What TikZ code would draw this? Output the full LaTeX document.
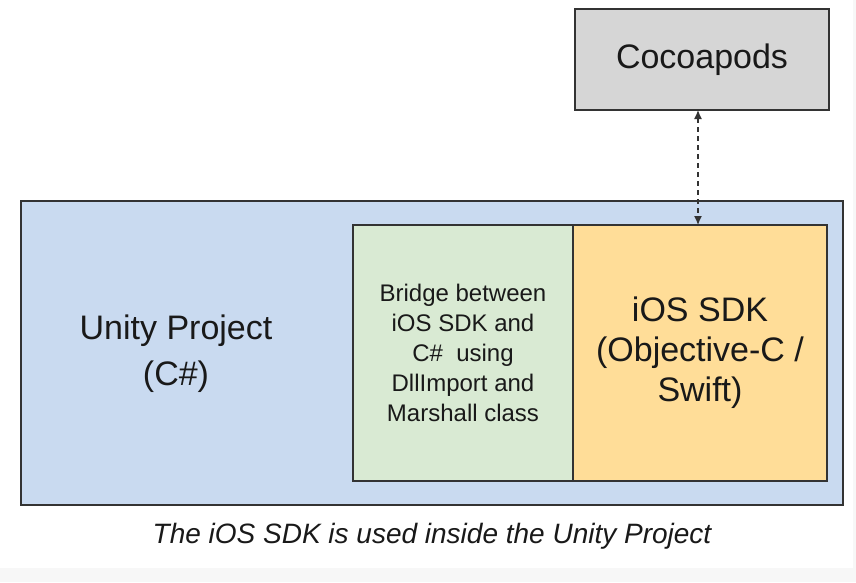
\documentclass[tikz,border=0pt]{standalone}
\usepackage{fontspec}
\setmainfont{Liberation Sans}
\usetikzlibrary{arrows.meta}
\definecolor{cblue}{HTML}{C9DAF0}
\definecolor{cgreen}{HTML}{D9EAD3}
\definecolor{corange}{HTML}{FFDD98}
\definecolor{cgray}{HTML}{D6D6D6}
\begin{document}
\begin{tikzpicture}[x=1pt,y=-1pt,
 box/.style={draw=black!80,line width=1.5pt,inner sep=0pt},
 lbl/.style={align=center,text=black!90}]
\useasboundingbox (0,0) rectangle (856,582);
\fill[white] (0,0) rectangle (856,582);
\fill[black!3] (0,568) rectangle (856,582);
\fill[black!3] (853,0) rectangle (856,582);
\draw[box,fill=cgray] (575,9) rectangle (829,110);
\node[lbl,font=\fontsize{34}{40}\selectfont] (coco) at (702,60) {Cocoapods};
\draw[box,fill=cblue] (21,201) rectangle (843,505);
\node[lbl,font=\fontsize{34}{46}\selectfont] (unity) at (176,354) {Unity Project\\(C\#)};
\draw[box,fill=cgreen] (353,225) rectangle (573,481);
\node[lbl,font=\fontsize{24}{30}\selectfont] (bridge) at (463,353) {Bridge between\\iOS SDK and\\C\#\ \ using\\DllImport and\\Marshall class};
\draw[box,fill=corange] (573,225) rectangle (827,481);
\node[lbl,font=\fontsize{34}{40}\selectfont] (ios) at (700,353) {iOS SDK\\(Objective-C /\\Swift)};
\coordinate (top) at (698,110);
\coordinate (bot) at (698,225);
\draw[black!80,line width=1.3pt,dash pattern=on 5pt off 4pt,{Latex[length=9pt,width=8pt]}-{Latex[length=9pt,width=8pt]}] (top) -- (bot);
\node[lbl,font=\fontsize{28}{32}\selectfont\itshape] (cap) at (432,536) {The iOS SDK is used inside the Unity Project};
\end{tikzpicture}
\end{document}
